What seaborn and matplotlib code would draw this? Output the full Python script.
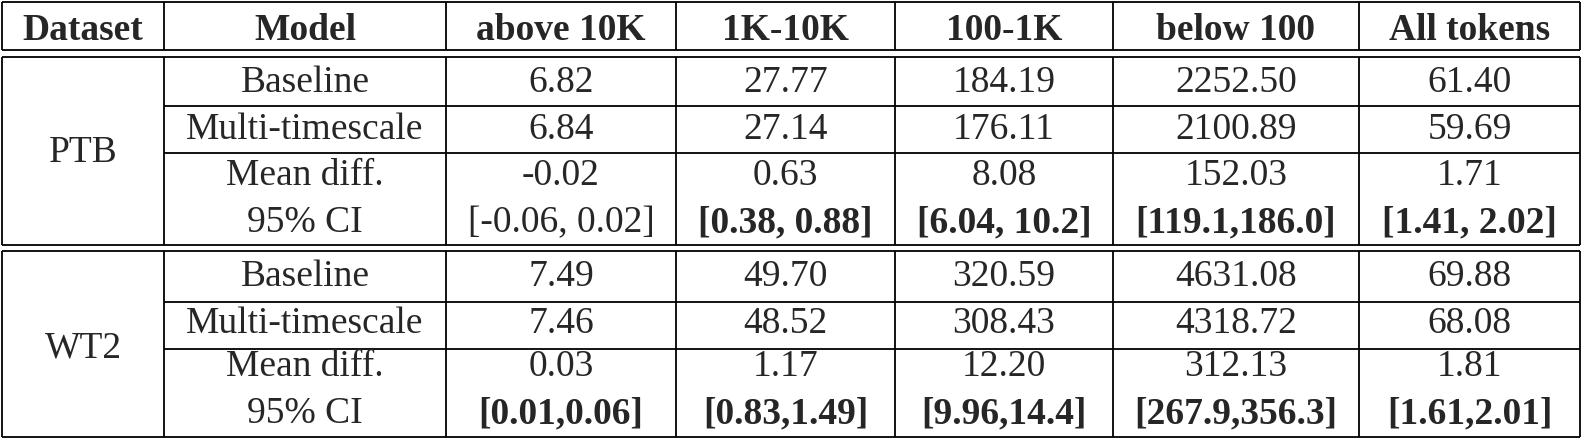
import matplotlib
matplotlib.use("Agg")
import matplotlib.pyplot as plt
import seaborn as sns

# table contents
columns = ["above 10K", "1K-10K", "100-1K", "below 100", "All tokens"]
models = ["Baseline", "Multi-timescale", "Mean diff.", "95% CI"]
datasets = ["PTB", "WT2"]

ptb_baseline = [6.82, 27.77, 184.19, 2252.50, 61.40]
ptb_multi = [6.84, 27.14, 176.11, 2100.89, 59.69]
ptb_diff = [-0.02, 0.63, 8.08, 152.03, 1.71]
ptb_ci = ["[-0.06, 0.02]", "[0.38, 0.88]", "[6.04, 10.2]", "[119.1,186.0]", "[1.41, 2.02]"]
ptb_ci_bold = [False, True, True, True, True]

wt2_baseline = [7.49, 49.70, 320.59, 4631.08, 69.88]
wt2_multi = [7.46, 48.52, 308.43, 4318.72, 68.08]
wt2_diff = [0.03, 1.17, 12.20, 312.13, 1.81]
wt2_ci = ["[0.01,0.06]", "[0.83,1.49]", "[9.96,14.4]", "[267.9,356.3]", "[1.61,2.01]"]
wt2_ci_bold = [True, True, True, True, True]

sns.set_theme(style="white")
plt.rcParams['font.family'] = ['Liberation Serif', 'DejaVu Serif']

W, H = 1582, 447
fig = plt.figure(figsize=(W / 100, H / 100), dpi=100)
ax = fig.add_axes([0, 0, 1, 1])
ax.set_xlim(0, W)
ax.set_ylim(H, 0)
ax.axis("off")

# grid geometry (pixels)
col_edges = [2, 164, 446, 676, 895, 1113, 1359, 1580]
centers = [(a + b) / 2 for a, b in zip(col_edges[:-1], col_edges[1:])]
fs = 27
lw = 1.3
k = "black"

# header
ax.hlines([2, 50], col_edges[0], col_edges[-1], color=k, lw=lw)
ax.vlines(col_edges, 2, 50, color=k, lw=lw)
for x, t in zip(centers, ["Dataset", "Model"] + columns):
    ax.text(x, 40, t, ha="center", va="baseline", fontsize=fs, fontweight="bold")

blocks = [
    (datasets[0], 57, [106, 153], 245, [92, 139, 185, 232], 162,
     ptb_baseline, ptb_multi, ptb_diff, ptb_ci, ptb_ci_bold),
    (datasets[1], 251, [302, 349], 437, [286, 333, 376, 423], 358,
     wt2_baseline, wt2_multi, wt2_diff, wt2_ci, wt2_ci_bold),
]

for name, top, inner, bot, bases, name_y, base, multi, diff, ci, bold in blocks:
    ax.hlines([top, bot], col_edges[0], col_edges[-1], color=k, lw=lw)
    ax.hlines(inner, col_edges[1], col_edges[-1], color=k, lw=lw)
    ax.vlines(col_edges, top, bot, color=k, lw=lw)
    ax.text(centers[0], name_y, name, ha="center", va="baseline", fontsize=fs)
    for y, m in zip(bases, models):
        ax.text(centers[1], y, m, ha="center", va="baseline", fontsize=fs)
    for j in range(len(columns)):
        x = centers[j + 2]
        ax.text(x, bases[0], f"{base[j]:.2f}", ha="center", va="baseline", fontsize=fs)
        ax.text(x, bases[1], f"{multi[j]:.2f}", ha="center", va="baseline", fontsize=fs)
        ax.text(x, bases[2], f"{diff[j]:.2f}", ha="center", va="baseline", fontsize=fs)
        ax.text(x, bases[3], ci[j], ha="center", va="baseline", fontsize=fs,
                fontweight="bold" if bold[j] else "normal")

fig.savefig("out.png", dpi=100, facecolor="white")
